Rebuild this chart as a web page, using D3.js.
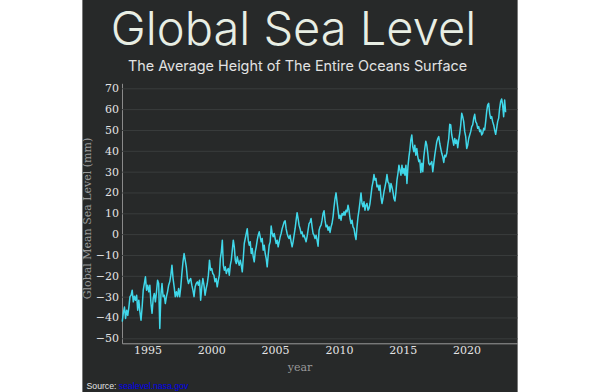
<!DOCTYPE html>
<html>
<head>
<meta charset="utf-8">
<script src="https://cdn.jsdelivr.net/npm/d3@7"></script>
<style>
    html, body { margin: 0; padding: 0; background: #fff; }
    svg { display: block; }
</style>
</head>
<body>
<svg id="chart"></svg>
<script>
// Global mean sea level (mm) in four stretches
const gmsl1993 = [
    -42, -37.7, -35, -40.5, -36.5, -39, -35, -30, -29.3, -26.9,
    -32.5, -29.8, -31.7, -29.3, -36.5, -31.7, -37.3, -41.3, -35, -26.9,
    -23.7, -20.5, -26.9, -24.5, -27.7, -24.5, -33.3, -38, -30.9, -28.5,
    -32.5, -27.7, -22.1, -23.7, -45.3, -29.3, -23.7, -30, -29.3, -33.3,
    -30, -27.7, -24.5, -22.9, -19.7, -14.9, -21.3, -25.3, -30, -27.7,
    -30, -26.1, -30, -25.3, -18.9, -13.3, -9.3, -12.5, -15.7, -21.3,
    -23.7, -22.1, -21.3, -24.5, -26.9, -30, -25.3, -23.7, -22.9, -24.5,
    -22.1, -31.7, -25.3, -21.3, -24.5, -29.3, -26.1, -23.7, -19.7, -12.5,
    -17.3, -16.5, -18.9, -19.7, -22.9, -21.3, -25.3, -22.1
];
const gmsl2000 = [
    -19.7, -11.7, -8.5, -2.9, -14.9, -17.3, -15.7, -18.9, -17.3, -16.5,
    -19.7, -14.9, -12.5, -7.7, -2.9, -6.1, -12.5, -14.1, -10.9, -13.3,
    -14.9, -12.5, -14.9, -18.1, -11.7, -4.5, -2.1, 0.3, 2.6, -2.9,
    -5.3, -3.7, -9.3, -6.9, -10.9, -13.3, -8.5, -6.1, -2.9, -0.5,
    1.1, -1.3, -3.7, -2.1, -7.7, -5.3, -9.3, -11.7, -15.7, -10.1,
    -5.3, -3.7, 3.9, 0.3, -1.3, 0.3, -2.1, -4.5, -2.9, -6.1,
    -3.7, -1.3, 0.3, 2.6, 4.2, 5.8, 6.4, 2.6, 0.3, -1.3,
    -2.1, -0.5, -3.7, -6.1, -3.7, -0.5, 2.6, 6.6, 10.3, 7.4,
    4.2, 2.6, 0.3, 1.1, -1.3, -0.5, -2.1, -3.7, -1.3, 1.9,
    5.0, 5.8
];
const gmsl2007 = [
    7.5, 3.5, 0.3, -0.5, -2.1, -0.5, -2.9, -5.8, 1.9, 3.5,
    4.3, 6.7, 9.9, 11.2, 6.7, 3.5, 4.3, 1.9, 3.5, 0.8,
    3.5, 5.1, 8.3, 13.1, 17.1, 19.8, 15.5, 11.5, 7.5, 9.1,
    6.7, 9.9, 9.1, 10.7, 9.1, 11.5, 10.7, 13.9, 11.5, 7.5,
    5.1, 6.7, 3.5, 2.6, -0.5, -2.6, 3.5, 8.3, 11.5, 15.5,
    19.8, 14.7, 13.1, 15.5, 11.5, 13.9, 14.7, 11.5, 12.3, 14.7,
    18.7, 22.7, 25.1, 28.6, 25.9, 26.7, 22.7, 23.5, 21.1, 23.5,
    17.9, 14.7, 17.1, 20.3, 22.7, 25.1, 28.6, 25.1, 24.3, 20.3,
    24.3, 22.7, 20.3, 17.1, 15.9, 20.3, 25.9, 29.1, 33.1, 30.7,
    28.3, 33.1, 29.1, 31.5, 28.3, 33.1, 24.3, 32.3, 37.1
];
const gmsl2015 = [
    40.3, 45.2, 47.6, 41.9, 39.6, 42.7, 37.9, 41.1, 37.1, 34.8,
    35.6, 29.6, 34.0, 30.0, 37.1, 41.1, 44.6, 42.7, 38.8, 34.0,
    33.2, 34.0, 34.8, 30.0, 34.0, 37.9, 41.1, 44.3, 45.9, 46.8,
    43.5, 41.1, 38.8, 37.1, 34.4, 37.9, 37.1, 38.8, 42.7, 45.9,
    52.7, 52.4, 47.6, 45.2, 42.7, 45.9, 43.5, 45.2, 41.5, 45.2,
    48.4, 52.4, 58.0, 56.4, 54.0, 49.2, 46.8, 41.1, 42.7, 45.9,
    47.6, 49.2, 51.6, 52.4, 55.6, 57.5, 54.0, 53.2, 50.8, 51.6,
    49.2, 50.0, 47.6, 48.4, 50.8, 50.0, 54.0, 58.8, 62.0, 62.8,
    58.0, 55.6, 56.4, 54.0, 52.4, 50.0, 47.9, 50.8, 54.0, 55.6,
    60.4, 63.6, 64.9, 62.0, 56.4, 64.4, 58.5
];
// First and last year of each stretch above
const segmentSpans = [[1993.02, 2000.55], [2000.63, 2007.74], [2007.82, 2015.49], [2015.56, 2023.07]];

const yearTicks = [1995, 2000, 2005, 2010, 2015, 2020];
const levelTicks = [-50, -40, -30, -20, -10, 0, 10, 20, 30, 40, 50, 60, 70];

const titleText = "Global Sea Level";
const subtitleText = "The Average Height of The Entire Oceans Surface";
const sourceLink = "sealevel.nasa.gov";

// Page + plot box
const width = 600;
const height = 392;
const plot = { left: 122, right: 517.5, top: 83.3, bottom: 343.3 };

const svg = d3.select("#chart")
    .attr("width", width)
    .attr("height", height);

// Dark card behind everything
svg.append("rect")
    .attr("x", 82.5)
    .attr("y", -1)
    .attr("width", 435)
    .attr("height", height + 10)
    .attr("fill", "#272929")
    .attr("stroke", "#7a7a7a");

// Titles
svg.append("text")
    .attr("x", 293.5)
    .attr("y", 45)
    .attr("text-anchor", "middle")
    .style("font-family", "Inter")
    .style("font-weight", 300)
    .style("font-size", "47px")
    .attr("fill", "#e8eee4")
    .text(titleText);

svg.append("text")
    .attr("x", 297.5)
    .attr("y", 70.5)
    .attr("text-anchor", "middle")
    .style("font-family", "Inter")
    .style("font-size", "14.4px")
    .attr("fill", "#e2e2e2")
    .text(subtitleText);

// Flatten the stretches into one series
const series = [gmsl1993, gmsl2000, gmsl2007, gmsl2015].flatMap((values, s) => {
    const [from, to] = segmentSpans[s];
    const step = (to - from) / (values.length - 1);
    return values.map((gmsl, i) => ({ year: from + i * step, gmsl }));
});

// Scales
const x = d3.scaleLinear()
    .domain([1993, 2024])
    .range([plot.left, plot.right]);

const y = d3.scaleLinear()
    .domain([-52.4, 72.4])
    .range([plot.bottom, plot.top]);

// Y axis doubles as horizontal grid
const yAxis = svg.append("g")
    .attr("transform", `translate(${plot.left},0)`)
    .call(d3.axisLeft(y)
        .tickValues(levelTicks)
        .tickSizeInner(-(plot.right - plot.left))
        .tickSizeOuter(0)
        .tickPadding(3));
yAxis.select(".domain").attr("stroke", "#8a8a8a");
yAxis.selectAll(".tick line").attr("stroke", "#3a3d3d");

const xAxis = svg.append("g")
    .attr("transform", `translate(0,${plot.bottom})`)
    .call(d3.axisBottom(x)
        .tickValues(yearTicks)
        .tickFormat(d3.format("d"))
        .tickSize(0)
        .tickPadding(3));
xAxis.select(".domain").attr("stroke", "#9a9a9a");

svg.selectAll(".tick text")
    .style("font-family", "DejaVu Serif")
    .style("font-size", "11px")
    .attr("fill", "#e4e4e4");

// Sea level line
const line = d3.line()
    .x((d) => x(d.year))
    .y((d) => y(d.gmsl));

svg.append("path")
    .datum(series)
    .attr("d", line)
    .attr("fill", "none")
    .attr("stroke", "#40d8ea")
    .attr("stroke-width", 1.5)
    .attr("stroke-linejoin", "round");

// Axis titles
svg.append("text")
    .attr("x", 300)
    .attr("y", 370.5)
    .attr("text-anchor", "middle")
    .style("font-family", "DejaVu Serif")
    .style("font-size", "11px")
    .attr("fill", "#999")
    .text("year");

svg.append("text")
    .attr("transform", "rotate(-90)")
    .attr("x", -218.5)
    .attr("y", 90.5)
    .attr("text-anchor", "middle")
    .style("font-family", "DejaVu Serif")
    .style("font-size", "11px")
    .attr("fill", "#999")
    .text("Global Mean Sea Level (mm)");

// Source line
const source = svg.append("text")
    .attr("x", 86.5)
    .attr("y", 388.5)
    .style("font-family", "Liberation Sans")
    .style("font-size", "8.7px")
    .attr("fill", "#e4e4e4")
    .text("Source: ");
source.append("tspan")
    .attr("fill", "#0000ee")
    .text(sourceLink);
</script>
</body>
</html>
